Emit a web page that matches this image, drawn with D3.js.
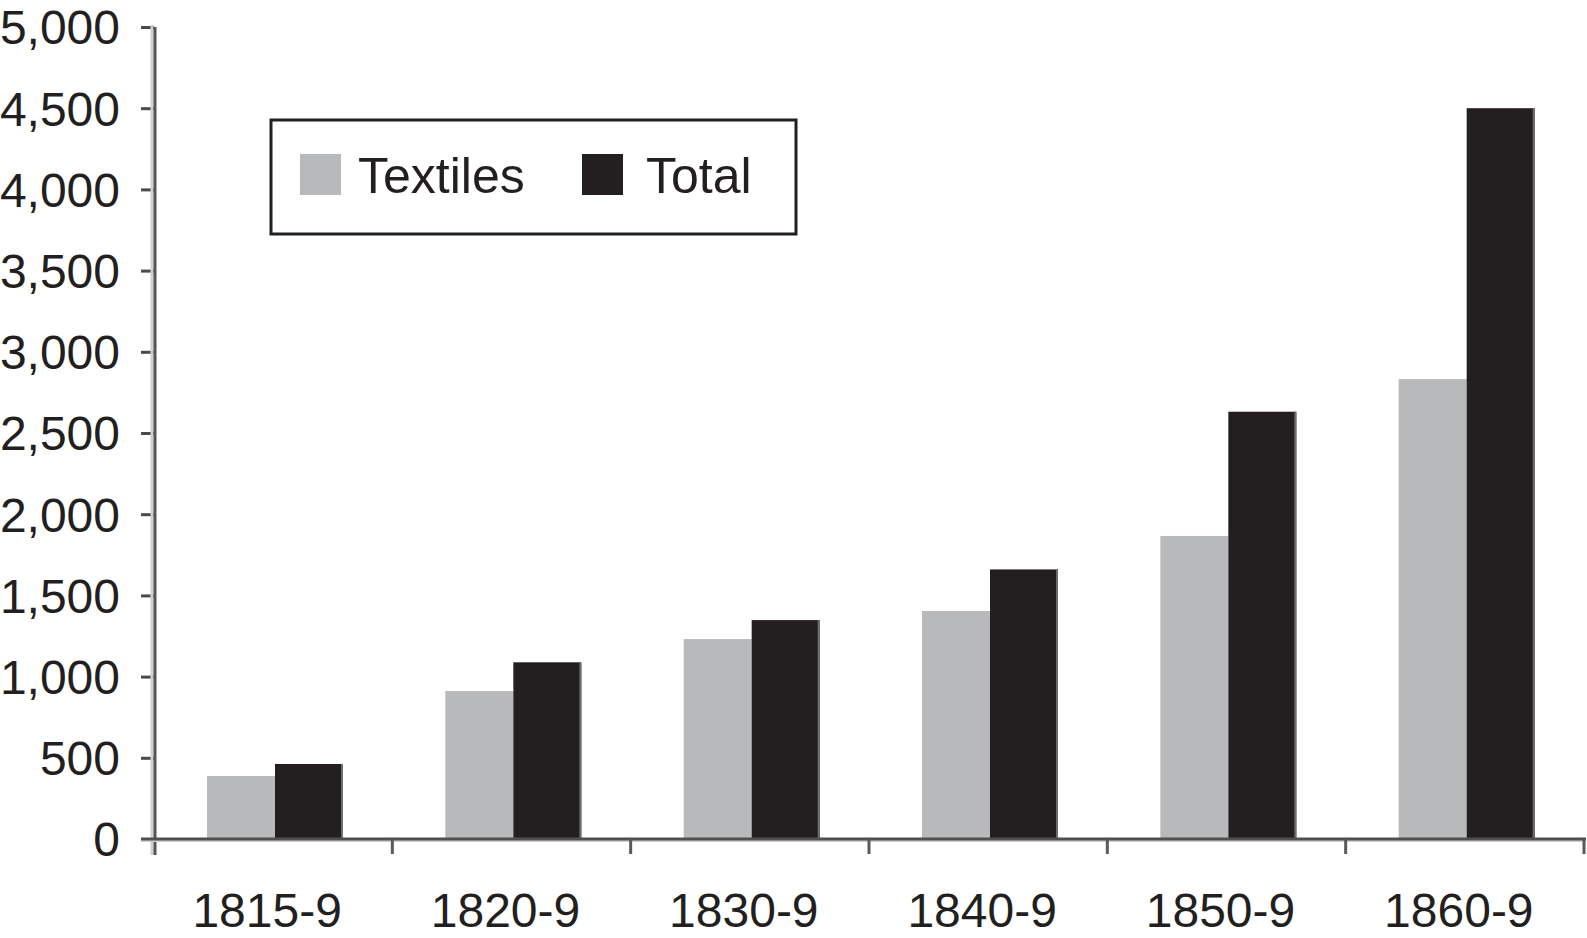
<!DOCTYPE html>
<html>
<head>
<meta charset="utf-8">
<script src="https://cdn.jsdelivr.net/npm/d3@7"></script>
<style>
  html, body { margin: 0; padding: 0; background: #fff; }
  svg { display: block; }
  text { font-family: "Liberation Sans", Arial, Helvetica, sans-serif; fill: #231f20; }
</style>
</head>
<body>
<script>
// ---- data ----
const categories = ["1815-9", "1820-9", "1830-9", "1840-9", "1850-9", "1860-9"];
const seriesNames = ["Textiles", "Total"];
const textiles = [388, 911, 1231, 1404, 1866, 2832];
const total = [462, 1088, 1348, 1660, 2631, 4500];
const yTicks = [0, 500, 1000, 1500, 2000, 2500, 3000, 3500, 4000, 4500, 5000];
const seriesColors = ["#b8b9bb", "#231f20"];

const W = 1587, H = 938;
const svg = d3.select("body").append("svg").attr("width", W).attr("height", H);

const y = d3.scaleLinear().domain([0, 5000]).range([839, 27]);
const x0 = d3.scaleBand().domain(categories).range([154, 1584]).paddingInner(0).paddingOuter(0);
const x1 = d3.scaleBand().domain(seriesNames).range([53, 189]).padding(0);

const rows = categories.map((c, i) => ({ cat: c, vals: [
  { key: "Textiles", v: textiles[i] },
  { key: "Total", v: total[i] }
]}));
const color = d3.scaleOrdinal().domain(seriesNames).range(seriesColors);

// bars
const g = svg.append("g");
const grp = g.selectAll("g.cat").data(rows).join("g")
  .attr("class", "cat")
  .attr("transform", d => `translate(${x0(d.cat)},0)`);
grp.selectAll("rect").data(d => d.vals).join("rect")
  .attr("x", d => x1(d.key))
  .attr("y", d => y(d.v))
  .attr("width", x1.bandwidth())
  .attr("height", d => y(0) - y(d.v))
  .attr("fill", d => color(d.key));
// subtle edge on total bars
grp.selectAll("line.edge").data(d => d.vals.filter(v => v.key === "Total")).join("line")
  .attr("class", "edge")
  .attr("x1", d => x1(d.key) + x1.bandwidth() - 1)
  .attr("x2", d => x1(d.key) + x1.bandwidth() - 1)
  .attr("y1", d => y(d.v))
  .attr("y2", y(0))
  .attr("stroke", "#6d6d6d").attr("stroke-width", 2);

// y axis
const yAxis = d3.axisLeft(y).tickValues(yTicks).tickSize(13).tickPadding(21)
  .tickFormat(d3.format(","));
const ya = svg.append("g").attr("transform", "translate(154,0)").call(yAxis);
ya.select(".domain").remove();
ya.selectAll(".tick line").attr("stroke", "#4a4a4a").attr("stroke-width", 3);
ya.selectAll(".tick text").attr("font-size", 48).attr("fill", "#231f20")
  .attr("font-family", '"Liberation Sans", Arial, sans-serif').attr("dy", "0.35em");
// y axis line (with light shadow)
svg.append("line").attr("x1", 152).attr("x2", 152).attr("y1", 25).attr("y2", 855)
  .attr("stroke", "#cfcfcf").attr("stroke-width", 3);
svg.append("line").attr("x1", 155).attr("x2", 155).attr("y1", 27).attr("y2", 855)
  .attr("stroke", "#555555").attr("stroke-width", 3);

// x axis
const boundaries = categories.map(c => x0(c)).concat([x0.range()[1]]);
svg.append("line").attr("x1", 141).attr("x2", 1586).attr("y1", 841).attr("y2", 841)
  .attr("stroke", "#d0d0d0").attr("stroke-width", 2);
svg.append("line").attr("x1", 141).attr("x2", 1586).attr("y1", y(0)).attr("y2", y(0))
  .attr("stroke", "#505050").attr("stroke-width", 3);
svg.selectAll("line.xtick").data(boundaries.slice(1)).join("line")
  .attr("class", "xtick")
  .attr("x1", d => d).attr("x2", d => d)
  .attr("y1", y(0)).attr("y2", 854)
  .attr("stroke", "#5a5a5a").attr("stroke-width", 3);
svg.selectAll("text.xlab").data(categories).join("text")
  .attr("class", "xlab")
  .attr("x", d => x0(d) + x0.bandwidth() / 2 - 6)
  .attr("y", 927)
  .attr("text-anchor", "middle")
  .attr("font-size", 48)
  .text(d => d);

// legend
const lg = svg.append("g");
lg.append("rect").attr("x", 271).attr("y", 120).attr("width", 525).attr("height", 114)
  .attr("fill", "#fff").attr("stroke", "#231f20").attr("stroke-width", 3);
const legendItems = [
  { key: "Textiles", sx: 300, tx: 358 },
  { key: "Total", sx: 582, tx: 646 }
];
lg.selectAll("rect.sw").data(legendItems).join("rect")
  .attr("class", "sw")
  .attr("x", d => d.sx).attr("y", 154).attr("width", 41).attr("height", 41)
  .attr("fill", d => color(d.key));
lg.selectAll("text.lt").data(legendItems).join("text")
  .attr("class", "lt")
  .attr("x", d => d.tx).attr("y", 193)
  .attr("font-size", 50)
  .text(d => d.key);
</script>
</body>
</html>
